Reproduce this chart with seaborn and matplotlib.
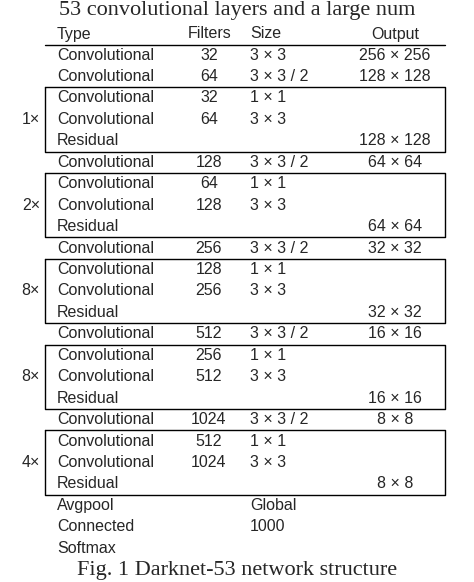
import matplotlib
matplotlib.use("Agg")
import matplotlib.pyplot as plt
import seaborn as sns

sns.set_theme(style="white")
plt.rcParams['font.family'] = ['Liberation Sans', 'DejaVu Sans']

types = ["Convolutional", "Convolutional",
         "Convolutional", "Convolutional", "Residual",
         "Convolutional",
         "Convolutional", "Convolutional", "Residual",
         "Convolutional",
         "Convolutional", "Convolutional", "Residual",
         "Convolutional",
         "Convolutional", "Convolutional", "Residual",
         "Convolutional",
         "Convolutional", "Convolutional", "Residual",
         "Avgpool", "Connected", "Softmax"]
filters = ["32", "64", "32", "64", "", "128", "64", "128", "", "256", "128", "256", "",
           "512", "256", "512", "", "1024", "512", "1024", "", "", "", ""]
sizes = ["3 × 3", "3 × 3 / 2", "1 × 1", "3 × 3", "", "3 × 3 / 2", "1 × 1", "3 × 3", "",
         "3 × 3 / 2", "1 × 1", "3 × 3", "", "3 × 3 / 2", "1 × 1", "3 × 3", "",
         "3 × 3 / 2", "1 × 1", "3 × 3", "", "Global", "1000", ""]
outputs = ["256 × 256", "128 × 128", "", "", "128 × 128", "64 × 64", "", "", "64 × 64",
           "32 × 32", "", "", "32 × 32", "16 × 16", "", "", "16 × 16", "8 × 8", "", "", "8 × 8",
           "", "", ""]
repeats = ["1×", "2×", "8×", "8×", "4×"]
box_starts = [2, 6, 10, 14, 18]

fig = plt.figure(figsize=(4.74, 5.82), dpi=100)
ax = fig.add_axes([0, 0, 1, 1])
ax.set_xlim(0, 474)
ax.set_ylim(582, 0)
ax.axis("off")

fs = 11.5
y0, dy = 55, 21.45
rows_y = [y0 + i * dy for i in range(len(types))]

hy = 34
ax.text(57, hy, "Type", fontsize=fs, va="center")
ax.text(188, hy, "Filters", fontsize=fs, va="center")
ax.text(250, hy, "Size", fontsize=fs, va="center")
ax.text(395, hy, "Output", fontsize=fs, va="center", ha="center")
ax.plot([45, 445], [45, 45], color="black", lw=1)

for i, y in enumerate(rows_y):
    ax.text(57, y, types[i], fontsize=fs, va="center")
    ax.text(209, y, filters[i], fontsize=fs, va="center", ha="center")
    ax.text(250, y, sizes[i], fontsize=fs, va="center")
    ax.text(395, y, outputs[i], fontsize=fs, va="center", ha="center")

for r, s in zip(repeats, box_starts):
    top = rows_y[s] - dy / 2
    bot = rows_y[s + 2] + dy / 2
    ax.plot([45, 445, 445, 45, 45], [top, top, bot, bot, top], color="black", lw=1)
    ax.text(40, rows_y[s + 1], r, fontsize=fs, va="center", ha="right")

ax.text(237, 10, "53 convolutional layers and a large num", fontsize=16, va="center",
        ha="center", family=["Liberation Serif"])
ax.text(237, 570, "Fig. 1 Darknet-53 network structure", fontsize=16, va="center",
        ha="center", family=["Liberation Serif"])

fig.savefig("out.png", dpi=100, facecolor="white")
